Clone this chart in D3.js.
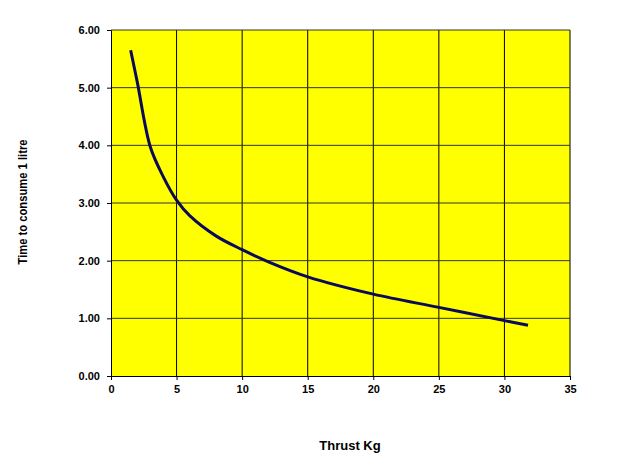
<!DOCTYPE html>
<html>
<head>
<meta charset="utf-8">
<script src="https://cdn.jsdelivr.net/npm/d3@7.9.0/dist/d3.min.js"></script>
<style>
  body { margin: 0; background: #fff; }
  svg { font-family: Arial, "Liberation Sans", sans-serif; }
  .tick text { font-size: 11px; font-weight: bold; fill: #000; }
</style>
</head>
<body>
<svg width="632" height="474"></svg>
<script>
// thrust (kg) vs time to consume 1 litre
const thrust = [1.5, 2, 3, 4, 5, 6, 8, 10, 12, 15, 20, 25, 30, 31.8];
const timeLitre = [5.65, 5.1, 3.97, 3.45, 3.05, 2.78, 2.43, 2.19, 1.98, 1.72, 1.42, 1.19, 0.96, 0.88];
const xTicks = [0, 5, 10, 15, 20, 25, 30, 35];
const yTicks = [0, 1, 2, 3, 4, 5, 6];

const svg = d3.select('svg');
const plotL = 111, plotR = 570, plotT = 30, plotB = 376;

const x = d3.scaleLinear().domain([0, 35]).range([plotL, plotR]);
const y = d3.scaleLinear().domain([0, 6]).range([plotB, plotT]);

// yellow plot area
svg.append('rect')
  .attr('x', plotL).attr('y', plotT)
  .attr('width', plotR - plotL).attr('height', plotB - plotT)
  .attr('fill', '#ffff00');

// grid
svg.append('g').selectAll('line').data(xTicks.slice(1)).join('line')
  .attr('x1', d => x(d)).attr('x2', d => x(d))
  .attr('y1', plotT).attr('y2', plotB)
  .attr('stroke', '#000').attr('stroke-width', 1);
svg.append('g').selectAll('line').data(yTicks.slice(1)).join('line')
  .attr('x1', plotL).attr('x2', plotR)
  .attr('y1', d => y(d)).attr('y2', d => y(d))
  .attr('stroke', '#333').attr('stroke-width', 1);

// axes
const xAxis = svg.append('g')
  .attr('transform', `translate(0,${plotB})`)
  .call(d3.axisBottom(x).tickValues(xTicks).tickSize(4).tickPadding(5).tickFormat(d3.format('d')));
const yAxis = svg.append('g')
  .attr('transform', `translate(${plotL},0)`)
  .call(d3.axisLeft(y).tickValues(yTicks).tickSize(4).tickPadding(7).tickFormat(d3.format('.2f')));
[xAxis, yAxis].forEach(g => {
  g.select('.domain').attr('stroke', '#000');
  g.selectAll('.tick line').attr('stroke', '#000');
});

// curve
const line = d3.line()
  .x((d, i) => x(thrust[i]))
  .y(d => y(d))
  .curve(d3.curveCatmullRom.alpha(0.5));
svg.append('path')
  .datum(timeLitre)
  .attr('d', line)
  .attr('fill', 'none')
  .attr('stroke', '#0a0a5a')
  .attr('stroke-width', 3);

// titles
svg.append('text')
  .attr('x', 350).attr('y', 450)
  .attr('text-anchor', 'middle')
  .attr('font-size', 13).attr('font-weight', 'bold')
  .text('Thrust Kg');
svg.append('text')
  .attr('transform', 'translate(27,202) rotate(-90)')
  .attr('text-anchor', 'middle')
  .attr('font-size', 13).attr('font-weight', 'bold')
  .attr('textLength', 125).attr('lengthAdjust', 'spacingAndGlyphs')
  .text('Time to consume 1 litre');
</script>
</body>
</html>
